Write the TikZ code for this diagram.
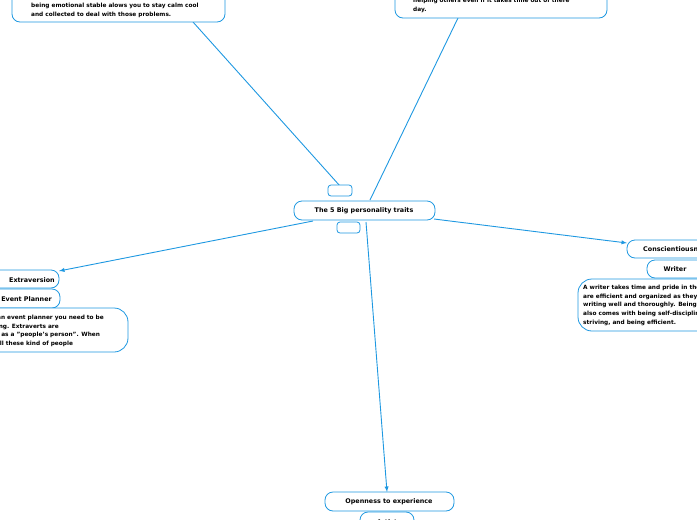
\documentclass[tikz,border=0pt]{standalone}
\usepackage{fontspec}
\setmainfont{DejaVu Sans}
\definecolor{mb}{RGB}{30,152,225}
\begin{document}
\begin{tikzpicture}[x=1pt,y=-1pt,
  bx/.style={draw=mb,line width=0.8pt,rounded corners=8pt,fill=white},
  sbx/.style={draw=mb,line width=0.8pt,rounded corners=3pt,fill=white},
  ln/.style={draw=mb,line width=0.9pt},
  ar/.style={ln,-latex},
  t/.style={font=\bfseries\fontsize{5.8}{8.6}\selectfont,inner sep=0pt},
  tt/.style={font=\bfseries\fontsize{6.4}{8}\selectfont,inner sep=0pt}]
\useasboundingbox (0,0) rectangle (697,520);
\clip (0,0) rectangle (697,520);
% connectors
\coordinate (tlb) at (193,22); \coordinate (sa) at (340,186);
\coordinate (trb) at (458,18); \coordinate (cr) at (370,200);
\draw[ln] (tlb) -- (sa);
\draw[ln] (trb) -- (cr);
\coordinate (c1) at (313,221); \coordinate (ex) at (59,271);
\coordinate (c2) at (434,219); \coordinate (co) at (627,243);
\coordinate (c3) at (366,222); \coordinate (op) at (387,492);
\draw[ar] (c1) -- (ex);
\draw[ar] (c2) -- (co);
\draw[ar] (c3) -- (op);
% top-left
\draw[bx] (12,-40) rectangle (225,22);
\node[t,anchor=base west] (tl1) at (31,7) {being emotional stable alows you to stay calm cool};
\node[t,anchor=base west] (tl2) at (31,16) {and collected to deal with those problems.};
% top-right
\draw[bx] (395,-40) rectangle (607,18);
\node[t,anchor=base west] (tr1) at (413,2) {helping others even if it takes time out of there};
\node[t,anchor=base west] (tr2) at (413,11) {day.};
% center
\draw[sbx] (328,185) rectangle (352,196);
\draw[bx] (294,201) rectangle (435,220);
\node[tt] (center) at (364,211) {The 5 Big personality traits};
\draw[sbx] (337,222) rectangle (360,233);
% extraversion
\draw[bx] (-60,270) rectangle (59,288);
\node[tt,anchor=east] (ext) at (55,280) {Extraversion};
\draw[bx] (-60,289) rectangle (60,308);
\node[tt,anchor=east] (evp) at (52,299) {Event Planner};
\draw[bx,rounded corners=14pt] (-80,308) rectangle (128,352);
\node[t,align=left,anchor=north east] (evt) at (104,315) {To be an event planner you need to be\\outgoing. Extraverts are\\known as a "people's person". When\\need all these kind of people};
% conscientiousness
\draw[bx] (627,240) rectangle (760,258);
\node[tt,anchor=west] (con) at (643,249) {Conscientiousness};
\draw[bx] (647,260) rectangle (760,278);
\node[tt] (wr) at (675,269) {Writer};
\draw[bx,rounded corners=14pt] (578,279) rectangle (780,331);
\node[t,align=left,anchor=north west] (wrt) at (583,285) {A writer takes time and pride in their work. They\\are efficient and organized as they focus on\\writing well and thoroughly. Being a writer\\also comes with being self-disciplined, achievement\\striving, and being efficient.};
% openness
\draw[bx] (325,492) rectangle (454,511);
\node[tt] (open) at (389,502) {Openness to experience};
\draw[bx] (360,512) rectangle (414,540);
\node[tt] (art) at (387,522) {Artist};
\end{tikzpicture}
\end{document}
